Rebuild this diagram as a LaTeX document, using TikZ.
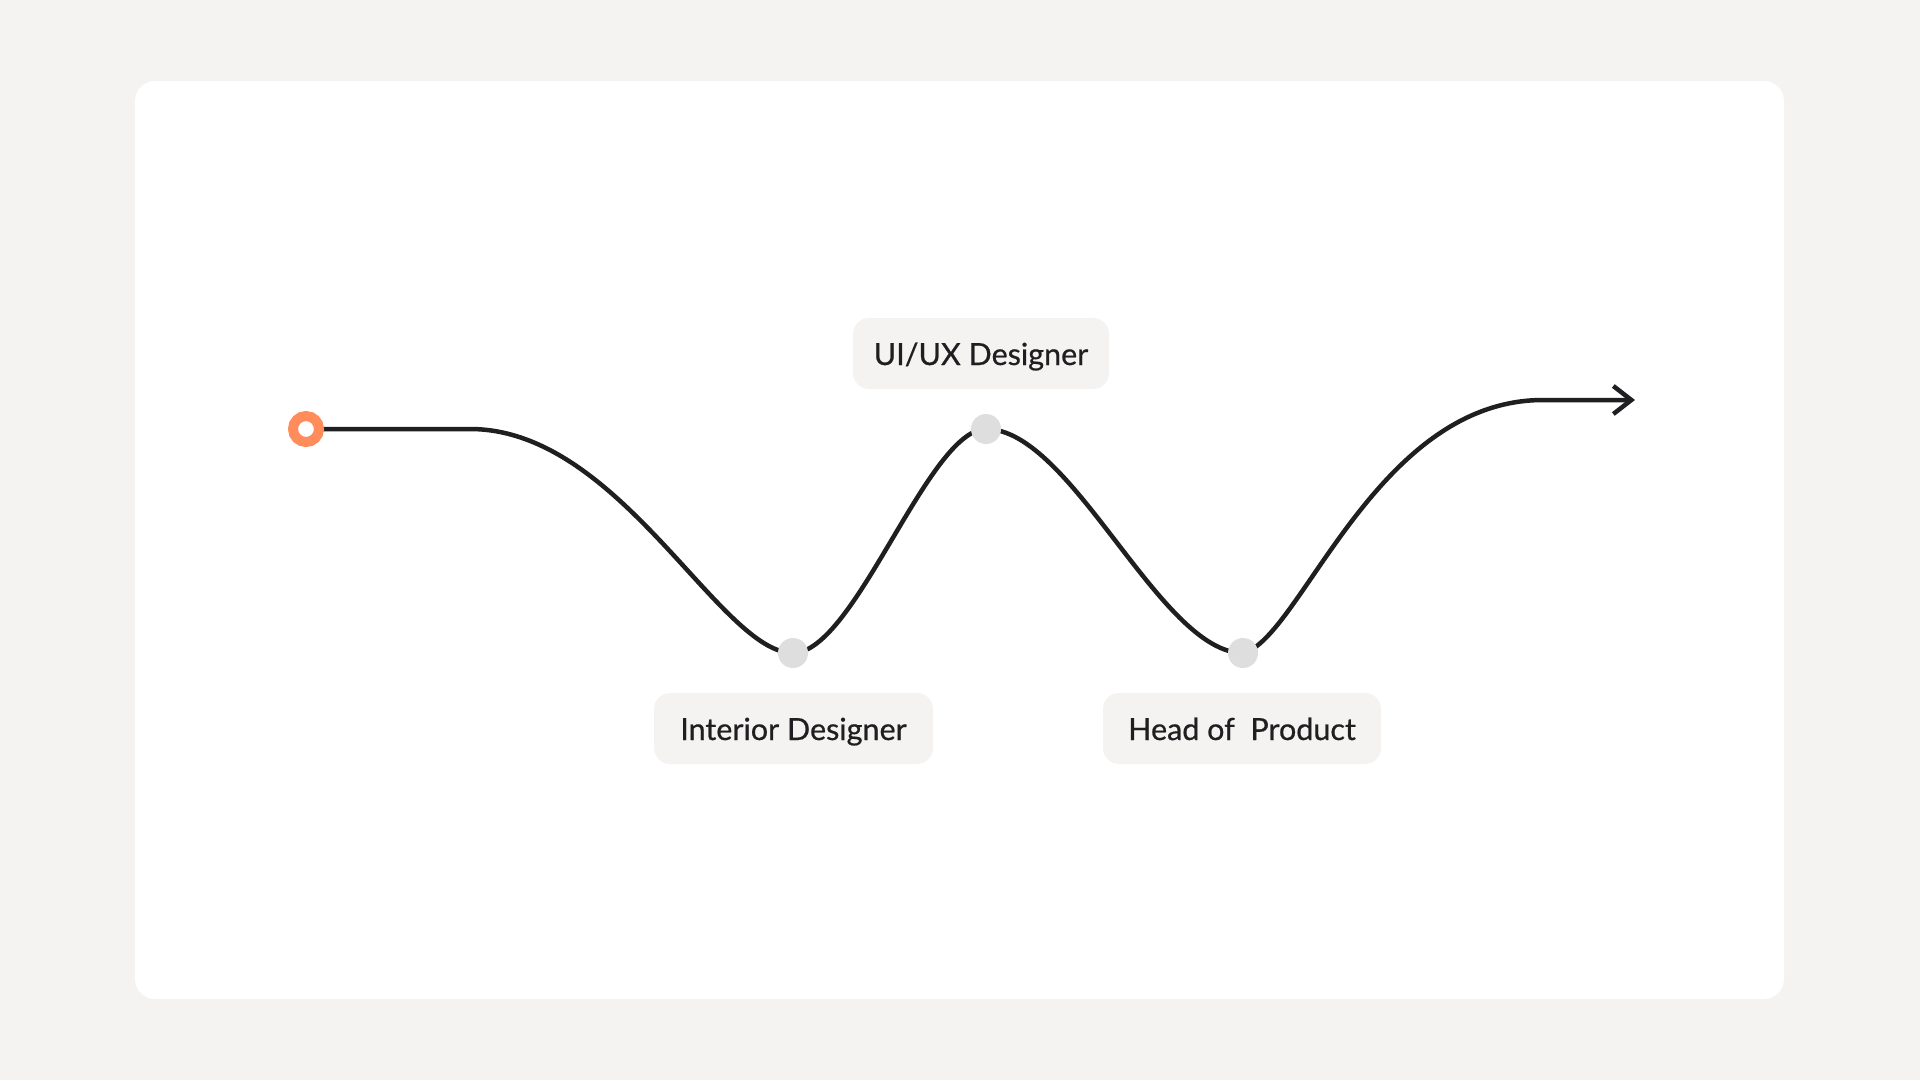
\documentclass[tikz,border=0pt]{standalone}
\usepackage{fontspec}
\setmainfont{Lato}
\newfontfamily\pillfont{Lato}[FakeBold=0.6]
\usetikzlibrary{arrows.meta}
\definecolor{pagebg}{HTML}{F4F3F2}
\definecolor{cardbg}{HTML}{FFFFFF}
\definecolor{pillbg}{HTML}{F4F3F1}
\definecolor{ink}{HTML}{1F1F21}
\definecolor{dotgray}{HTML}{DEDEDE}
\definecolor{accent}{HTML}{FF8C5A}
\tikzset{
  pathline/.style={draw=ink, line width=4.5pt, line cap=round, line join=round},
  milestone/.style={circle, fill=dotgray, minimum size=30pt, inner sep=0pt},
  startring/.style={circle, draw=accent, line width=10pt, fill=white, minimum size=26pt, inner sep=0pt},
  pill/.style={rounded corners=16pt, fill=pillbg, inner sep=0pt, minimum height=71pt},
  pilltext/.style={anchor=base, text=ink, inner sep=0pt, font=\pillfont\fontsize{30.5}{36}\selectfont}
}
\begin{document}
\begin{tikzpicture}[x=1pt, y=-1pt]
\useasboundingbox (0,0) rectangle (1920,1080);
\fill[pagebg] (0,0) rectangle (1920,1080);
\fill[cardbg, rounded corners=20pt] (135,81) rectangle (1784,999);

% path points
\coordinate (p0) at (306,429);
\coordinate (p1) at (470,429);
\coordinate (m1) at (793,653);
\coordinate (m2) at (986,429);
\coordinate (m3) at (1243,653);
\coordinate (p5) at (1543,400);
\coordinate (tip) at (1635,400);

\draw[pathline, -{Straight Barb[length=18pt, width=28pt]}]
  (p0) -- (p1)
  .. controls (620,429) and (720,653) .. (m1)
  .. controls (855,653) and (928,429) .. (m2)
  .. controls (1072,429) and (1160,653) .. (m3)
  .. controls (1300,640) and (1375,400) .. (p5)
  -- (tip);

\node[startring] (start) at (p0) {};
\node[milestone] (d1) at (m1) {};
\node[milestone] (d2) at (m2) {};
\node[milestone] (d3) at (m3) {};

% labels
\node[pill, minimum width=256pt] (l2) at (981,353.5) {};
\node[pilltext] (t2) at (981,365) {UI/UX Designer};
\node[pill, minimum width=279pt] (l1) at (793.5,728.5) {};
\node[pilltext] (t1) at (793.5,740) {Interior Designer};
\node[pill, minimum width=278pt] (l3) at (1242,728.5) {};
\node[pilltext] (t3) at (1242,740) {Head of\ \ Product};
\end{tikzpicture}
\end{document}
